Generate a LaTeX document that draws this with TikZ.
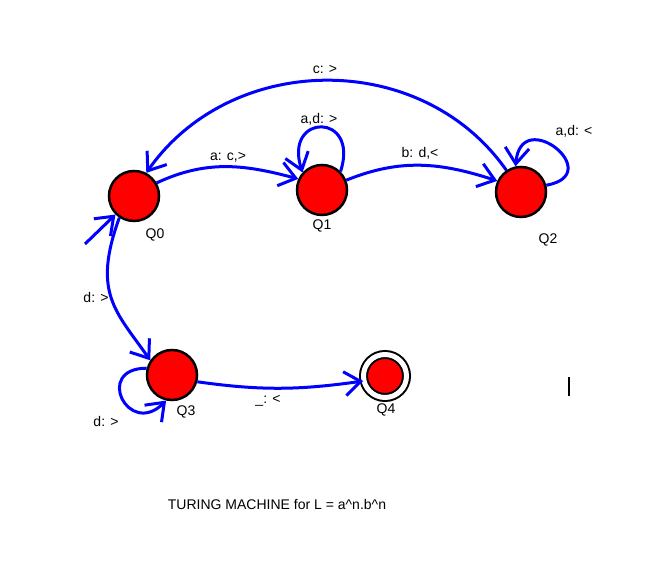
\documentclass[tikz,border=0pt]{standalone}
\usepackage{fontspec}
\setmainfont{Liberation Sans}
\usetikzlibrary{arrows.meta}
\begin{document}
\begin{tikzpicture}[x=1pt,y=1pt,
  state/.style={circle, draw=black, line width=2.5pt, fill=red, minimum size=50pt, inner sep=0pt},
  accept/.style={circle, draw=black, line width=2pt, double=white, double distance=5pt, fill=red, minimum size=43pt, inner sep=0pt},
  tedge/.style={draw=blue, line width=3pt, -{Straight Barb[length=16pt,width=24pt]}},
  lbl/.style={font=\fontsize{14}{16}\selectfont, inner sep=0pt},
]
\useasboundingbox[fill=white] (0,0) rectangle (660,572);

% states
\node[state] (q0) at (134,376) {};
\node[state] (q1) at (322,382) {};
\node[state] (q2) at (521,380) {};
\node[state] (q3) at (172,197) {};
\node[accept] (q4) at (385,196) {};

% state names
\node[lbl] (n0) at (155,337) {Q0};
\node[lbl] (n1) at (322,346) {Q1};
\node[lbl] (n2) at (548,332) {Q2};
\node[lbl] (n3) at (186,160) {Q3};
\node[lbl] (n4) at (386,162) {Q4};

% initial arrow
\coordinate (init) at (85,328);
\draw[tedge] (init) -- (q0.225);

% transitions
\draw[tedge] (q0.30) to[out=25,in=165] (q1.155);
\draw[tedge] (q1.22) to[out=22,in=162] (q2.155);
\draw[tedge] (q2.124) to[out=125,in=55,looseness=1.05] (q0.62);
\draw[tedge] (q1.45) to[out=72,in=108,looseness=4.2] (q1.138);
\draw[tedge] (q2.15) to[out=10,in=85,looseness=4.4] (q2.102);
\draw[tedge] (q0.236) .. controls +(250:80) and +(125:60) .. (q3.146);
\draw[tedge] (q3.165) to[out=180,in=225,looseness=3.6] (q3.257);
\draw[tedge] (q3.345) to[out=-8,in=188] (q4.193);

% transition labels
\node[lbl] (l20) at (325,503) {c: >};
\node[lbl] (l11) at (319,453) {a,d: >};
\node[lbl] (l01) at (228,415) {a: c,>};
\node[lbl] (l12) at (420,419) {b: d,<};
\node[lbl] (l22) at (574,441) {a,d: <};
\node[lbl] (l03) at (96,274) {d: >};
\node[lbl] (l33) at (106,151) {d: >};
\node[lbl] (l34) at (268,171) {\_: <};

% title
\node[lbl] (title) at (277,68) {TURING MACHINE for L = a\^{}n.b\^{}n};

% cursor bar
\coordinate (cur1) at (569,195);
\coordinate (cur2) at (569,176);
\draw[line width=1.2pt] (cur1) -- (cur2);
\end{tikzpicture}
\end{document}
